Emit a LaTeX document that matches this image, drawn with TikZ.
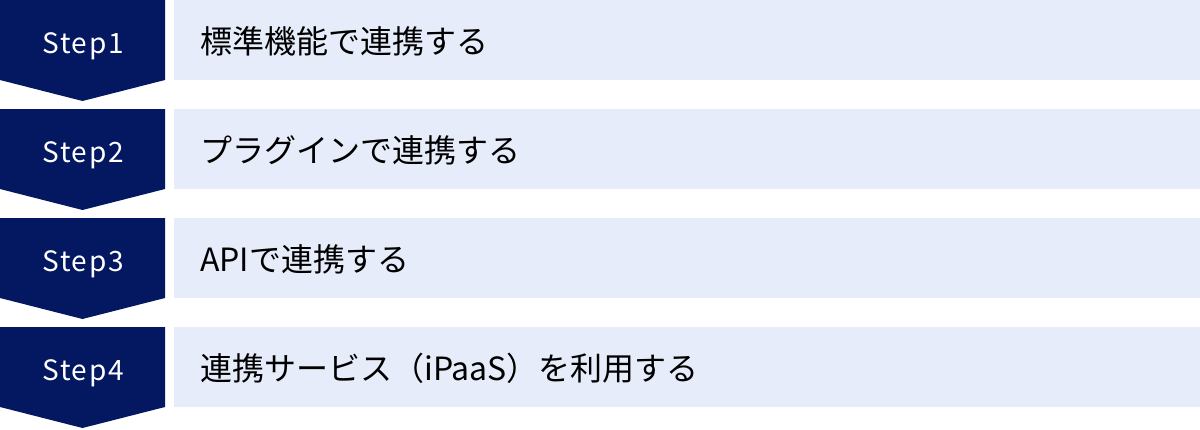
\documentclass[tikz,border=0pt]{standalone}
\usepackage{fontspec}
\setmainfont{Noto Sans CJK JP}
\newfontfamily\stepfont[LetterSpace=6]{Noto Sans CJK JP}
\usepackage{tikz}
\definecolor{stepnavy}{HTML}{041862}
\definecolor{rowblue}{HTML}{E6ECF9}

\begin{document}
\begin{tikzpicture}[x=1pt,y=-1pt,
  steplabel/.style={anchor=base,text=white,inner sep=0pt,font=\stepfont\fontsize{28}{28}\selectfont},
  rowlabel/.style={anchor=base west,inner sep=0pt,text=black,font=\fontsize{32}{32}\selectfont}]
\useasboundingbox (0,0) rectangle (1200,429);
% one row every 109 units: navy chevron on the left, pale band on the right
\foreach \i/\txt in {0/標準機能で連携する,1/プラグインで連携する,2/APIで連携する,3/連携サービス（iPaaS）を利用する}{
  \pgfmathsetmacro{\top}{109*\i}
  \fill[rowblue] (174,\top) rectangle (1200,\top+80);
  \fill[stepnavy] (0,\top) -- (165,\top) -- (165,\top+80) -- (82.5,\top+101) -- (0,\top+80) -- cycle;
  \pgfmathtruncatemacro{\n}{\i+1}
  \node[steplabel] (step\n) at (83,\top+53) {Step\n};
  \node[rowlabel] (row\n) at (200,\top+53) {\txt};
}
\end{tikzpicture}
\end{document}
